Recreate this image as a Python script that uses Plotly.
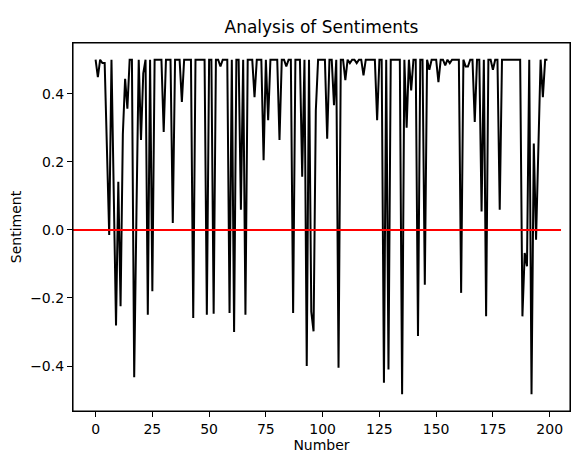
import plotly.graph_objects as go

# sentiment score per item (0..199)
sentiment = [
    0.5, 0.449, 0.5, 0.49, 0.49, 0.24, -0.015, 0.5, 0.11, -0.281,          # 0-9
    0.141, -0.224, 0.28, 0.444, 0.356, 0.5, 0.5, -0.433, 0.05, 0.5,        # 10-19
    0.264, 0.46, 0.5, -0.249, 0.5, -0.18, 0.5, 0.5, 0.5, 0.5,              # 20-29
    0.288, 0.5, 0.5, 0.5, 0.02, 0.5, 0.5, 0.5, 0.376, 0.5,                 # 30-39
    0.5, 0.5, 0.5, -0.259, 0.5, 0.5, 0.5, 0.5, 0.5, -0.249,                # 40-49
    0.5, 0.5, -0.246, 0.5, 0.5, 0.48, 0.5, 0.5, 0.5, -0.244,               # 50-59
    0.5, -0.30, 0.5, 0.5, 0.059, 0.5, -0.249, 0.5, 0.5, 0.5,               # 60-69
    0.39, 0.5, 0.5, 0.5, 0.205, 0.5, 0.322, 0.5, 0.5, 0.5,                 # 70-79
    0.5, 0.264, 0.5, 0.5, 0.48, 0.5, 0.5, -0.244, 0.5, 0.5,                # 80-89
    0.5, 0.156, 0.5, -0.40, 0.5, -0.24, -0.298, 0.35, 0.5, 0.5,            # 90-99
    0.5, 0.5, 0.268, 0.5, 0.5, 0.366, 0.5, -0.405, 0.5, 0.5,               # 100-109
    0.44, 0.5, 0.49, 0.5, 0.5, 0.49, 0.5, 0.5, 0.454, 0.5,                 # 110-119
    0.5, 0.5, 0.5, 0.5, 0.322, 0.5, 0.5, -0.449, 0.5, -0.41,               # 120-129
    0.5, 0.5, 0.5, 0.5, 0.5, -0.483, 0.5, 0.30, 0.5, 0.41,                 # 130-139
    0.5, 0.5, -0.312, 0.5, 0.5, -0.161, 0.5, 0.47, 0.5, 0.5,               # 140-149
    0.5, 0.434, 0.5, 0.5, 0.483, 0.5, 0.49, 0.5, 0.5, 0.5,                 # 150-159
    0.5, -0.185, 0.5, 0.48, 0.48, 0.5, 0.5, 0.317, 0.5, 0.5,               # 160-169
    0.054, 0.5, -0.254, 0.5, 0.5, 0.47, 0.5, 0.5, 0.059, 0.5,              # 170-179
    0.5, 0.5, 0.5, 0.5, 0.5, 0.5, 0.5, 0.5, -0.254, -0.068,                # 180-189
    -0.107, 0.5, -0.483, 0.254, -0.029, 0.24, 0.5, 0.39, 0.5, 0.5,         # 190-199
]
number = list(range(len(sentiment)))

# red reference line at zero
baseline_x = [-10, 205]
baseline_y = [0, 0]

x_ticks = [0, 25, 50, 75, 100, 125, 150, 175, 200]
y_ticks = [-0.4, -0.2, 0.0, 0.2, 0.4]

FONT = "DejaVu Sans"
# the page body adds an 8px margin, so the figure is made 8px smaller
W, H = 577, 451

fig = go.Figure()

fig.add_trace(go.Scatter(
    x=number, y=sentiment,
    mode="lines",
    line=dict(color="black", width=2),
    showlegend=False,
))

fig.add_trace(go.Scatter(
    x=baseline_x, y=baseline_y,
    mode="lines",
    line=dict(color="#ff0000", width=2),
    showlegend=False,
))

# axes frame
fig.add_shape(type="rect", xref="paper", yref="paper",
              x0=0, x1=1, y0=0, y1=1,
              line=dict(color="black", width=1.1), layer="above")

fig.update_layout(
    width=W, height=H,
    margin=dict(l=65, r=15, t=35, b=48, autoexpand=False),
    paper_bgcolor="white",
    plot_bgcolor="white",
    font=dict(family=FONT, size=14, color="black"),
    title=dict(
        text="Analysis of Sentiments",
        x=(65 + 562) / 2 / W, xanchor="center",
        y=1 - 19 / H, yanchor="middle",
        font=dict(family=FONT, size=17, color="black"),
    ),
)

axis_style = dict(
    showgrid=False, zeroline=False, automargin=False,
    showline=True, linecolor="#000000", linewidth=1.1, mirror=True,
    ticks="outside", ticklen=5, tickwidth=1.1, tickcolor="black",
    tickfont=dict(family=FONT, size=14, color="black"),
)

fig.update_xaxes(
    range=[-9.95, 208.95], tickvals=x_ticks,
    title=dict(text="Number", font=dict(family=FONT, size=14), standoff=4),
    **axis_style,
)
fig.update_yaxes(
    range=[-0.532, 0.549], tickvals=y_ticks, tickformat=".1f",
    title=dict(text="Sentiment", font=dict(family=FONT, size=14), standoff=13),
    **axis_style,
)

fig.write_html("out.html")
